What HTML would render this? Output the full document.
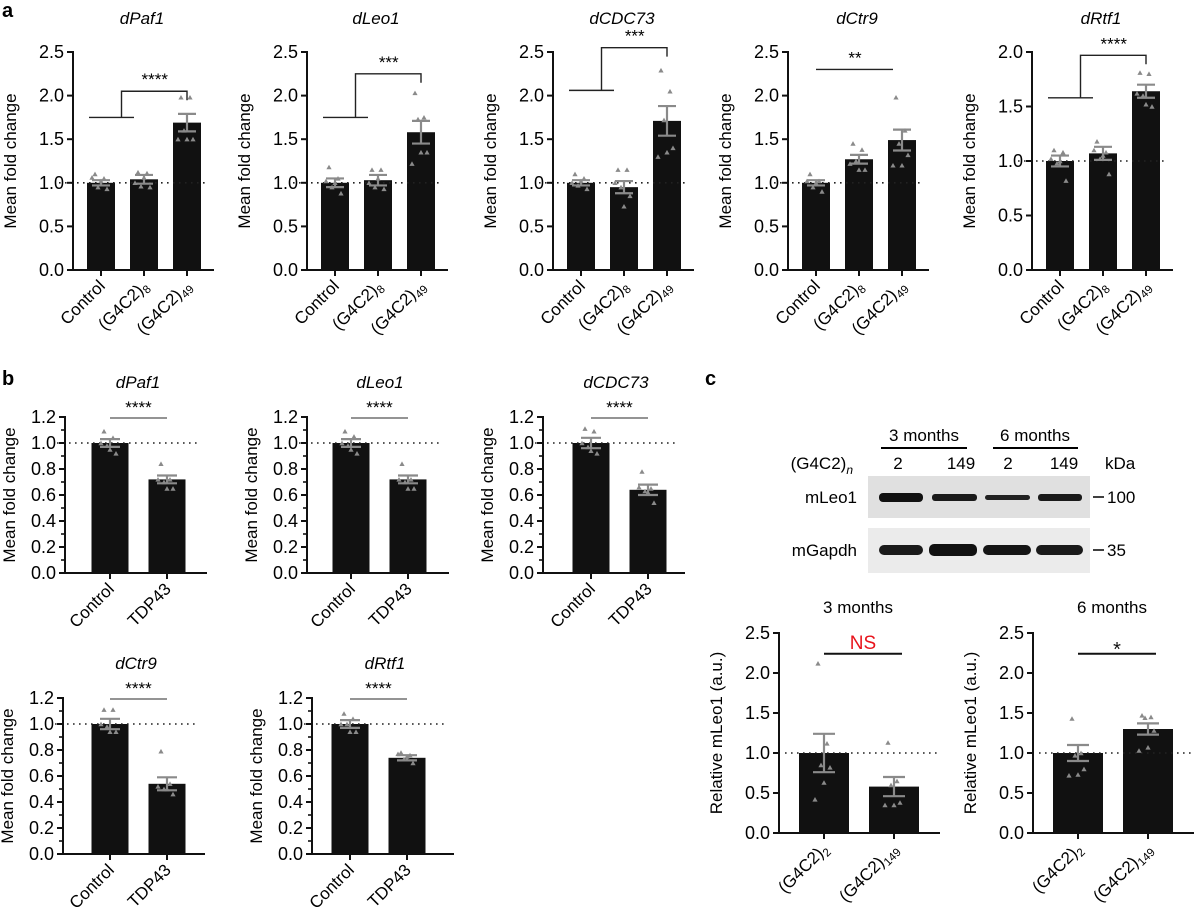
<!DOCTYPE html>
<html><head><meta charset="utf-8">
<style>
html,body{margin:0;padding:0;background:#fff;}
svg{display:block;font-family:"Liberation Sans",Arial,sans-serif;}
</style></head>
<body>
<svg id="fig" width="1200" height="915" viewBox="0 0 1200 915" xmlns="http://www.w3.org/2000/svg">
<text x="2" y="17" font-size="20" font-weight="bold">a</text>
<text x="2" y="385" font-size="20" font-weight="bold">b</text>
<text x="705" y="385" font-size="20" font-weight="bold">c</text>

<g>
<text x="924" y="441" font-size="17" text-anchor="middle">3 months</text>
<line x1="881" y1="448" x2="967" y2="448" stroke="#000" stroke-width="2"/>
<text x="1035" y="441" font-size="17" text-anchor="middle">6 months</text>
<line x1="993" y1="448" x2="1078" y2="448" stroke="#000" stroke-width="2"/>
<text x="853" y="469" font-size="17" text-anchor="end">(G4C2)<tspan font-size="12" font-style="italic" dy="5">n</tspan></text>
<text x="898" y="469" font-size="17" text-anchor="middle">2</text>
<text x="961" y="469" font-size="17" text-anchor="middle">149</text>
<text x="1008" y="469" font-size="17" text-anchor="middle">2</text>
<text x="1064" y="469" font-size="17" text-anchor="middle">149</text>
<text x="1105" y="469" font-size="17" text-anchor="start">kDa</text>
<text x="857" y="503" font-size="17" text-anchor="end">mLeo1</text>
<text x="857" y="556" font-size="17" text-anchor="end">mGapdh</text>
<rect x="868" y="476" width="222" height="42" fill="#e0e0e0"/>
<rect x="879" y="493" width="44" height="9" rx="4" fill="#111"/>
<rect x="932" y="494" width="45" height="7" rx="3" fill="#1a1a1a"/>
<rect x="985" y="495" width="45" height="5" rx="2.5" fill="#222"/>
<rect x="1038" y="494" width="44" height="7" rx="3" fill="#1a1a1a"/>
<rect x="868" y="528" width="222" height="45" fill="#ebebeb"/>
<rect x="879" y="545" width="44" height="10" rx="5" fill="#1a1a1a"/>
<rect x="929" y="544" width="48" height="12" rx="5" fill="#111"/>
<rect x="983" y="545" width="48" height="10" rx="5" fill="#151515"/>
<rect x="1036" y="545" width="47" height="10" rx="5" fill="#1a1a1a"/>
<line x1="1093" y1="497" x2="1104" y2="497" stroke="#000" stroke-width="1.5"/>
<text x="1107" y="503" font-size="17">100</text>
<line x1="1093" y1="550" x2="1104" y2="550" stroke="#000" stroke-width="1.5"/>
<text x="1107" y="556" font-size="17">35</text>
</g>
</svg>
<script>
// ---------- Panel a data ----------
const aTitles = ["dPaf1","dLeo1","dCDC73","dCtr9","dRtf1"];
const aCategories = ["Control","(G4C2)8","(G4C2)49"];
const aMeans = [[1.0,1.04,1.69],[1.0,1.03,1.58],[1.0,0.95,1.71],[1.0,1.27,1.49],[1.0,1.07,1.64]];
const aSems = [[0.03,0.05,0.10],[0.05,0.06,0.13],[0.03,0.07,0.17],[0.03,0.05,0.12],[0.05,0.06,0.06]];
const aPoints = [
 [[1.10,1.05,0.95,0.93,1.02,1.06],[1.12,1.11,0.96,0.95,1.06,1.0],[1.98,1.98,1.6,1.5,1.5,1.5]],
 [[1.18,1.05,0.95,0.88,1.0,1.02],[1.15,1.15,0.95,0.93,1.05,1.0],[2.03,1.75,1.73,1.35,1.35,1.22]],
 [[1.10,1.05,0.97,0.93,1.02,1.0],[1.15,1.15,0.95,0.85,0.73,1.0],[2.29,2.05,1.72,1.4,1.35,1.3]],
 [[1.10,1.02,0.95,0.90,1.0,1.02],[1.45,1.38,1.25,1.15,1.15,1.22],[1.98,1.6,1.45,1.32,1.2,1.2]],
 [[1.10,1.08,0.98,0.82,1.0,1.02],[1.18,1.08,1.02,0.88,1.05,1.1],[1.81,1.80,1.6,1.5,1.52,1.62]]
];
const aYMax = [2.5,2.5,2.5,2.5,2.0];
const aYTicks = [[0,0.5,1,1.5,2,2.5],[0,0.5,1,1.5,2,2.5],[0,0.5,1,1.5,2,2.5],[0,0.5,1,1.5,2,2.5],[0,0.5,1,1.5,2]];
const aStars = ["****","***","***","**","****"];
const aBracketLow = [1.75,1.75,2.06,null,1.58];
const aBracketHigh = [2.05,2.25,2.55,2.3,1.97];
// ---------- Panel b data ----------
const bTitles = ["dPaf1","dLeo1","dCDC73","dCtr9","dRtf1"];
const bCategories = ["Control","TDP43"];
const bMeans = [[1.0,0.72],[1.0,0.72],[1.0,0.64],[1.0,0.54],[1.0,0.74]];
const bSems = [[0.03,0.03],[0.03,0.03],[0.04,0.04],[0.04,0.05],[0.03,0.02]];
const bPoints = [
 [[1.09,1.04,0.98,0.92,0.95,1.0],[0.84,0.72,0.70,0.65,0.65,0.72]],
 [[1.09,1.05,0.98,0.92,0.95,1.0],[0.84,0.72,0.70,0.65,0.65,0.72]],
 [[1.11,1.09,0.97,0.92,0.94,1.0],[0.78,0.65,0.63,0.54,0.62,0.66]],
 [[1.11,1.11,0.98,0.94,0.94,1.0],[0.79,0.54,0.50,0.46,0.50,0.52]],
 [[1.08,1.04,1.0,0.94,0.94,1.0],[0.78,0.76,0.73,0.70,0.75,0.77]]
];
const bYTicks = [0,0.2,0.4,0.6,0.8,1.0,1.2];
// ---------- Panel c data ----------
const cTitles = ["3 months","6 months"];
const cCategories = ["(G4C2)2","(G4C2)149"];
const cMeans = [[1.0,0.58],[1.0,1.30]];
const cSems = [[0.24,0.12],[0.10,0.07]];
const cPoints = [
 [[2.12,1.12,0.85,0.82,0.63,0.42],[1.13,0.65,0.60,0.38,0.35,0.35]],
 [[1.43,1.0,0.97,0.80,0.73,0.72],[1.47,1.45,1.44,1.28,1.07,1.03]]
];
const cYTicks = [0,0.5,1,1.5,2,2.5];
const cSig = ["NS","*"];

const NS = "http://www.w3.org/2000/svg";
const svg = document.getElementById("fig");
function el(tag, attrs, parent){
  const e = document.createElementNS(NS, tag);
  for (const k in attrs) e.setAttribute(k, attrs[k]);
  (parent||svg).appendChild(e); return e;
}
const jitter = [-6,3,-3,6,0,-9,9];

function catLabel(g, text, x, y, fs){
  const m = text.match(/^(\(G4C2\))(\d+)$/);
  const t = el("text",{x:x,y:y,"font-size":fs,"text-anchor":"end",transform:`rotate(-45 ${x} ${y})`},g);
  if(m){
    t.appendChild(document.createTextNode(m[1]));
    const s = el("tspan",{"font-size":fs*0.68,dy:4},t);
    s.textContent = m[2];
  } else t.textContent = text;
  
  
}

function drawChart(o){
  const g = el("g",{});
  
  
  const y = v => o.y0 - (v / o.ymax) * (o.y0 - o.ytop);
  const x = i => o.ax + o.first + i * o.step;
  o.means.forEach((m,i)=>{
    const r = el("rect",{x:x(i)-o.bw/2,y:y(m),width:o.bw,height:o.y0-y(m),fill:"#111"},g);
    
    
  });
  el("line",{x1:o.ax+o.dotStart,y1:y(1),x2:o.xend+o.dotExtra,y2:y(1),stroke:"#222","stroke-width":1.6,"stroke-dasharray":"1.6 4.4"},g);
  o.points.forEach((pts,i)=>{
    pts.forEach((v,j)=>{
      const px = x(i)+jitter[j%jitter.length]*o.jscale, py=y(v);
      const p = el("polygon",{points:`${px-2.6},${py+2.2} ${px+2.6},${py+2.2} ${px},${py-2.4}`,fill:"#8a8a8a"},g);
      
      
    });
  });
  o.means.forEach((m,i)=>{
    const s=o.sems[i], w=o.capw;
    el("path",{d:`M${x(i)},${y(m-s)}V${y(m+s)}M${x(i)-w},${y(m+s)}H${x(i)+w}M${x(i)-w},${y(m-s)}H${x(i)+w}`,stroke:"#8a8a8a","stroke-width":2.2,fill:"none"},g);
  });
  el("line",{x1:o.ax,y1:o.ytop-1,x2:o.ax,y2:o.y0,stroke:"#111","stroke-width":2},g);
  el("line",{x1:o.ax-1,y1:o.y0,x2:o.xend,y2:o.y0,stroke:"#111","stroke-width":2},g);
  o.ticks.forEach(t=>{
    el("line",{x1:o.ax-6,y1:y(t),x2:o.ax,y2:y(t),stroke:"#111","stroke-width":2},g);
    const tl = el("text",{x:o.ax-9,y:y(t)+6,"font-size":o.tfs,"text-anchor":"end"},g);
    tl.textContent = o.tickFmt(t);
    
    
  });
  if(o.minor){
    for(let k=0;k<o.ticks.length-1;k++){
      const t=(o.ticks[k]+o.ticks[k+1])/2;
      el("line",{x1:o.ax-4,y1:y(t),x2:o.ax,y2:y(t),stroke:"#111","stroke-width":1.6},g);
    }
  }
  o.means.forEach((m,i)=>{
    el("line",{x1:x(i),y1:o.y0,x2:x(i),y2:o.y0+6,stroke:"#111","stroke-width":2},g);
    catLabel(g,o.cats[i],x(i)+5,o.y0+17,o.xfs);
  });
  const yt = el("text",{x:o.ytx,y:(o.y0+o.ytop)/2,"font-size":o.yfs,"text-anchor":"middle",transform:`rotate(-90 ${o.ytx} ${(o.y0+o.ytop)/2})`},g);
  yt.textContent = o.ytitle;
  
  
  const tt = el("text",{x:o.titleX,y:o.titleY,"font-size":o.titleFs,"text-anchor":"middle","font-style":o.italic?"italic":"normal"},g);
  tt.textContent = o.title;
  
  
  o.annot(g,x,y);
}

// Panel a
const aAxis = [73,307,553,788,1032];
aTitles.forEach((t,k)=>{
  const ax=aAxis[k];
  drawChart({name:"chart-a-"+t.toLowerCase(),ax:ax,first:28,step:43,bw:28,xend:ax+141,y0:270,ytop:52,
    ymax:aYMax[k],ticks:aYTicks[k],minor:false,tickFmt:v=>v.toFixed(1),tfs:18,
    means:aMeans[k],sems:aSems[k],points:aPoints[k],cats:aCategories,capw:9,jscale:1,
    dotStart:-14,dotExtra:-8,xfs:17,ytx:ax-57,ytitle:"Mean fold change",yfs:17,
    title:t,titleX:ax+69,titleY:24,titleFs:17,italic:true,
    annot:(g,x,y)=>{
      const hi=y(aBracketHigh[k]);
      if(aBracketLow[k]!==null){
        const lo=y(aBracketLow[k]), mid=(x(0)+x(1))/2;
        el("path",{d:`M${x(0)-12},${lo}H${x(1)-10}M${mid-1},${lo}V${hi}H${x(2)}V${hi+9}`,stroke:"#222","stroke-width":1.4,fill:"none"},g);
        const s=el("text",{x:(mid+x(2))/2,y:hi-6,"font-size":17,"text-anchor":"middle"},g);
        s.textContent=aStars[k];
        
        
      } else {
        el("line",{x1:x(0),y1:hi,x2:x(2)-9,y2:hi,stroke:"#222","stroke-width":1.4},g);
        const s=el("text",{x:(x(0)+x(2))/2-4,y:hi-6,"font-size":17,"text-anchor":"middle"},g);
        s.textContent=aStars[k];
        
        
      }
    }});
});

// Panel b
const bAxis=[65,307,543,63,312];
const bRow=[573,573,573,854,854];
const bFirst=[45,44,48,47,38];
bTitles.forEach((t,k)=>{
  const ax=bAxis[k];
  drawChart({name:"chart-b-"+t.toLowerCase(),ax:ax,first:bFirst[k],step:57,bw:37,xend:ax+142,y0:bRow[k],ytop:bRow[k]-156,
    ymax:1.2,ticks:bYTicks,minor:true,tickFmt:v=>v.toFixed(1),tfs:18,
    means:bMeans[k],sems:bSems[k],points:bPoints[k],cats:bCategories,capw:10,jscale:1,
    dotStart:-8,dotExtra:-6,xfs:17,ytx:ax-50,ytitle:"Mean fold change",yfs:17,
    title:t,titleX:ax+73,titleY:bRow[k]-185,titleFs:17,italic:true,
    annot:(g,x,y)=>{
      const ly=y(1.2)+1;
      el("line",{x1:x(0),y1:ly,x2:x(1),y2:ly,stroke:"#555","stroke-width":1.3},g);
      const s=el("text",{x:(x(0)+x(1))/2,y:ly-5,"font-size":17,"text-anchor":"middle"},g);
      s.textContent="****";
      
      
    }});
});

// Panel c
const cAxis=[779,1033];
cTitles.forEach((t,k)=>{
  const ax=cAxis[k];
  drawChart({name:"chart-c-"+t.replace(' ','-'),ax:ax,first:45,step:70,bw:50,xend:ax+161,y0:833,ytop:633,
    ymax:2.5,ticks:cYTicks,minor:false,tickFmt:v=>v.toFixed(1),tfs:18,
    means:cMeans[k],sems:cSems[k],points:cPoints[k],cats:cCategories,capw:11,jscale:1,
    dotStart:6,dotExtra:0,xfs:17,ytx:ax-57,ytitle:"Relative mLeo1 (a.u.)",yfs:17,
    title:t,titleX:ax+79,titleY:613,titleFs:17,italic:false,
    annot:(g,x,y)=>{
      const ly=y(2.24);
      el("line",{x1:x(0),y1:ly,x2:x(1)+8,y2:ly,stroke:"#111","stroke-width":2},g);
      const s=el("text",{x:(x(0)+x(1))/2+4,y:k==0?ly-5:ly+2,"font-size":k==0?19:20,"text-anchor":"middle",fill:k==0?"#e8141c":"#111"},g);
      s.textContent=cSig[k];
      
      
    }});
});
</script>
</body></html>
